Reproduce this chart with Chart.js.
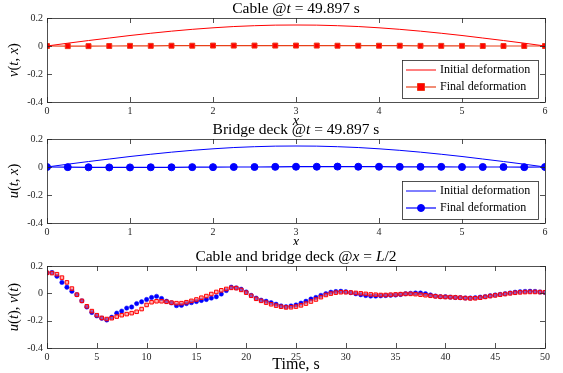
<!DOCTYPE html>
<html>
<head>
<meta charset="utf-8">
<script src="https://cdn.jsdelivr.net/npm/chart.js@4.4.0/dist/chart.umd.min.js"></script>
<style>
  html, body { margin: 0; padding: 0; background: #fff; }
  #wrap { position: relative; width: 563px; height: 373px; overflow: hidden; }
  canvas { position: absolute; left: 0; }
</style>
</head>
<body>
<div id="wrap">
  <canvas id="cable" width="563" height="130" style="top:0px"></canvas>
  <canvas id="deck" width="563" height="130" style="top:115px"></canvas>
  <canvas id="mid" width="563" height="133" style="top:240px"></canvas>
</div>
<script>
// positions along the span (x), one marker every 0.25
const spanX = [0, 0.25, 0.5, 0.75, 1, 1.25, 1.5, 1.75, 2, 2.25, 2.5, 2.75, 3,
  3.25, 3.5, 3.75, 4, 4.25, 4.5, 4.75, 5, 5.25, 5.5, 5.75, 6];

// initial shape (same for cable and deck)
const initialShape = [0, 0.02, 0.039, 0.057, 0.075, 0.091, 0.106, 0.119, 0.13,
  0.139, 0.145, 0.149, 0.15, 0.149, 0.145, 0.139, 0.13, 0.119, 0.106, 0.091,
  0.075, 0.057, 0.039, 0.02, 0];

const cableFinal = [0, -0.001, -0.001, 0, 0.001, 0.001, 0.002, 0.002, 0.003,
  0.003, 0.003, 0.003, 0.003, 0.003, 0.002, 0.002, 0.002, 0.002, 0.001, 0.001,
  0.001, 0, 0, 0, 0];

const deckFinal = [0, -0.001, -0.002, -0.003, -0.003, -0.002, -0.002, -0.001,
  -0.001, 0, 0, 0.001, 0.002, 0.002, 0.003, 0.002, 0.002, 0.001, 0.001, 0.001,
  0, 0, 0, -0.001, 0];

// mid-span response, one sample every 0.5 s from 0 to 50 s
const timeStep = 0.5;
const cableMid = [0.150, 0.148, 0.140, 0.115, 0.080, 0.035, -0.010, -0.055,
  -0.095, -0.130, -0.160, -0.180, -0.188, -0.182, -0.170, -0.160, -0.152,
  -0.145, -0.135, -0.115, -0.085, -0.065, -0.058, -0.058, -0.062, -0.068,
  -0.072, -0.072, -0.065, -0.055, -0.045, -0.032, -0.020, -0.005, 0.010,
  0.022, 0.032, 0.040, 0.038, 0.025, 0.005, -0.018, -0.040, -0.055, -0.068,
  -0.080, -0.090, -0.098, -0.103, -0.102, -0.097, -0.088, -0.075, -0.060,
  -0.045, -0.028, -0.012, -0.002, 0.005, 0.008, 0.008, 0.006, 0.003, 0.000,
  -0.004, -0.008, -0.010, -0.012, -0.012, -0.010, -0.008, -0.006, -0.004,
  -0.004, -0.006, -0.010, -0.014, -0.018, -0.022, -0.025, -0.027, -0.028,
  -0.030, -0.032, -0.035, -0.037, -0.036, -0.032, -0.026, -0.020, -0.015,
  -0.010, -0.005, 0.000, 0.004, 0.007, 0.009, 0.010, 0.010, 0.009, 0.008];

const deckMid = [0.150, 0.152, 0.125, 0.080, 0.045, 0.015, -0.010, -0.055,
  -0.100, -0.140, -0.165, -0.182, -0.195, -0.175, -0.145, -0.130, -0.108,
  -0.100, -0.075, -0.062, -0.045, -0.030, -0.022, -0.038, -0.058, -0.070,
  -0.090, -0.088, -0.075, -0.068, -0.060, -0.052, -0.045, -0.035, -0.025,
  -0.005, 0.020, 0.045, 0.040, 0.030, 0.010, -0.015, -0.035, -0.050, -0.058,
  -0.068, -0.080, -0.092, -0.098, -0.092, -0.085, -0.072, -0.058, -0.042,
  -0.030, -0.015, -0.002, 0.008, 0.013, 0.015, 0.012, 0.005, -0.003, -0.010,
  -0.016, -0.020, -0.020, -0.018, -0.016, -0.014, -0.012, -0.008, -0.003,
  0.000, 0.002, 0.002, -0.003, -0.012, -0.020, -0.025, -0.025, -0.028,
  -0.030, -0.032, -0.034, -0.034, -0.032, -0.028, -0.024, -0.018, -0.012,
  -0.008, -0.003, 0.003, 0.008, 0.012, 0.014, 0.015, 0.014, 0.010, 0.006];

const yTicks = [-0.4, -0.2, 0, 0.2];

const SERIF = "'Liberation Serif', 'Times New Roman', serif";
const AXIS = '#262626';

const pts = (xs, ys) => xs.map((x, i) => ({ x: x, y: ys[i] }));

// text made of plain / italic pieces
function drawRich(ctx, segs, cx, cy, size, rotate) {
  ctx.save();
  ctx.fillStyle = '#000';
  ctx.textBaseline = 'middle';
  ctx.textAlign = 'left';
  let total = 0;
  segs.forEach(s => {
    ctx.font = (s[1] ? 'italic ' : '') + size + 'px ' + SERIF;
    total += ctx.measureText(s[0]).width;
  });
  ctx.translate(cx, cy);
  if (rotate) ctx.rotate(-Math.PI / 2);
  let x = -total / 2;
  segs.forEach(s => {
    ctx.font = (s[1] ? 'italic ' : '') + size + 'px ' + SERIF;
    ctx.fillText(s[0], x, 0);
    x += ctx.measureText(s[0]).width;
  });
  ctx.restore();
}

const boxPlugin = {
  id: 'box',
  afterDraw(chart, args, o) {
    const ctx = chart.ctx;
    const a = chart.chartArea;
    ctx.save();
    ctx.strokeStyle = AXIS;
    ctx.lineWidth = 0.8;
    ctx.beginPath();
    const xs = chart.scales.x, ys = chart.scales.y;
    xs.ticks.forEach(t => {
      const p = Math.round(xs.getPixelForValue(t.value)) + 0.5;
      ctx.moveTo(p, a.bottom); ctx.lineTo(p, a.bottom - 5);
      ctx.moveTo(p, a.top); ctx.lineTo(p, a.top + 5);
    });
    ys.ticks.forEach(t => {
      const p = Math.round(ys.getPixelForValue(t.value)) + 0.5;
      ctx.moveTo(a.left, p); ctx.lineTo(a.left + 5, p);
      ctx.moveTo(a.right, p); ctx.lineTo(a.right - 5, p);
    });
    ctx.stroke();
    ctx.strokeRect(a.left + 0.5, a.top + 0.5, a.right - a.left, a.bottom - a.top);
    ctx.restore();

    const cx = (a.left + a.right) / 2;
    drawRich(ctx, o.title, cx, a.top - 9, o.titleSize, false);
    drawRich(ctx, o.xlabel, cx, a.bottom + o.xlabelGap, o.xlabelSize, false);
    drawRich(ctx, o.ylabel, 14, (a.top + a.bottom) / 2, 14.5, true);

    if (o.legend) {
      const ds = chart.data.datasets;
      const w = 136, h = 38;
      const x0 = a.right - w - 7, y0 = a.bottom - h - 4;
      ctx.save();
      ctx.fillStyle = '#fff';
      ctx.fillRect(x0, y0, w, h);
      ctx.strokeStyle = AXIS;
      ctx.lineWidth = 0.8;
      ctx.strokeRect(x0 + 0.5, y0 + 0.5, w, h);
      o.legend.forEach((label, i) => {
        const d = ds[i];
        const ry = y0 + 10 + i * 17;
        ctx.strokeStyle = d.borderColor;
        ctx.lineWidth = d.borderWidth;
        ctx.beginPath();
        ctx.moveTo(x0 + 4, ry); ctx.lineTo(x0 + 34, ry);
        ctx.stroke();
        if (d.pointRadius > 0) {
          ctx.fillStyle = d.pointBackgroundColor;
          ctx.strokeStyle = d.pointBorderColor;
          ctx.lineWidth = 1;
          const r = d.pointRadius;
          ctx.beginPath();
          if (d.pointStyle === 'rect') ctx.rect(x0 + 19 - r, ry - r, 2 * r, 2 * r);
          else ctx.arc(x0 + 19, ry, r, 0, Math.PI * 2);
          ctx.fill(); ctx.stroke();
        }
        ctx.fillStyle = '#000';
        ctx.font = '12px ' + SERIF;
        ctx.textBaseline = 'middle';
        ctx.fillText(label, x0 + 38, ry);
      });
      ctx.restore();
    }
  }
};

function makeChart(id, datasets, xCfg, areaTop, xHeight, opts) {
  return new Chart(document.getElementById(id), {
    type: 'scatter',
    data: { datasets: datasets },
    options: {
      responsive: false,
      animation: false,
      layout: { padding: { top: areaTop, right: 18, left: 0, bottom: 0 } },
      scales: {
        x: {
          type: 'linear', min: xCfg.min, max: xCfg.max,
          grid: { display: false, drawTicks: false, tickLength: 0 },
          border: { display: false },
          ticks: { stepSize: xCfg.step, color: AXIS, padding: 3,
            font: { family: SERIF, size: 10 } },
          afterFit: s => { s.height = xHeight; }
        },
        y: {
          min: -0.4, max: 0.2,
          grid: { display: false, drawTicks: false, tickLength: 0 },
          border: { display: false },
          afterBuildTicks: s => { s.ticks = yTicks.map(v => ({ value: v })); },
          ticks: { color: AXIS, padding: 4, font: { family: SERIF, size: 10 },
            callback: v => (Math.abs(v) < 1e-9 ? '0' : v.toFixed(1)) },
          afterFit: s => { s.width = 47; }
        }
      },
      plugins: {
        legend: { display: false },
        tooltip: { enabled: false },
        box: opts
      }
    },
    plugins: [boxPlugin]
  });
}

const spanAxis = { min: 0, max: 6, step: 1 };

makeChart('cable', [
  { data: pts(spanX, initialShape), showLine: true, borderColor: '#ff0000',
    borderWidth: 1, pointRadius: 0 },
  { data: pts(spanX, cableFinal), showLine: true, borderColor: '#e8401a',
    borderWidth: 1.2, pointStyle: 'rect', pointRadius: 3.5,
    pointBackgroundColor: '#ff0000', pointBorderColor: '#f03818', pointBorderWidth: 1 }
], spanAxis, 18, 28, {
  title: [['Cable @', 0], ['t', 1], [' = 49.897 s', 0]], titleSize: 15.5,
  xlabel: [['x', 1]], xlabelGap: 19, xlabelSize: 14.5,
  ylabel: [['v', 1], ['(', 0], ['t', 1], [', ', 0], ['x', 1], [')', 0]],
  legend: ['Initial deformation', 'Final deformation']
});

makeChart('deck', [
  { data: pts(spanX, initialShape), showLine: true, borderColor: '#0000ff',
    borderWidth: 1, pointRadius: 0 },
  { data: pts(spanX, deckFinal), showLine: true, borderColor: '#0000ff',
    borderWidth: 1.2, pointStyle: 'circle', pointRadius: 3.5,
    pointBackgroundColor: '#0000ff', pointBorderColor: '#0000ff', pointBorderWidth: 1 }
], spanAxis, 24, 22, {
  title: [['Bridge deck @', 0], ['t', 1], [' = 49.897 s', 0]], titleSize: 15.5,
  xlabel: [['x', 1]], xlabelGap: 19, xlabelSize: 14.5,
  ylabel: [['u', 1], ['(', 0], ['t', 1], [', ', 0], ['x', 1], [')', 0]],
  legend: ['Initial deformation', 'Final deformation']
});

const times = cableMid.map((_, i) => i * timeStep);

makeChart('mid', [
  { data: pts(times, cableMid), showLine: false, pointStyle: 'rect', pointRadius: 2.5,
    pointBackgroundColor: 'rgba(255,130,130,0.6)', pointBorderColor: '#ff0000',
    pointBorderWidth: 1 },
  { data: pts(times, deckMid), showLine: false, pointStyle: 'circle', pointRadius: 2.2,
    pointBackgroundColor: '#0000ff', pointBorderColor: '#0000ff', pointBorderWidth: 0.5 }
], { min: 0, max: 50, step: 5 }, 26, 25, {
  title: [['Cable and bridge deck @', 0], ['x', 1], [' = ', 0], ['L', 1], ['/2', 0]],
  titleSize: 15.5,
  xlabel: [['Time, s', 0]], xlabelGap: 17, xlabelSize: 16,
  ylabel: [['u', 1], ['(', 0], ['t', 1], ['), ', 0], ['v', 1], ['(', 0], ['t', 1], [')', 0]]
});
</script>
</body>
</html>
